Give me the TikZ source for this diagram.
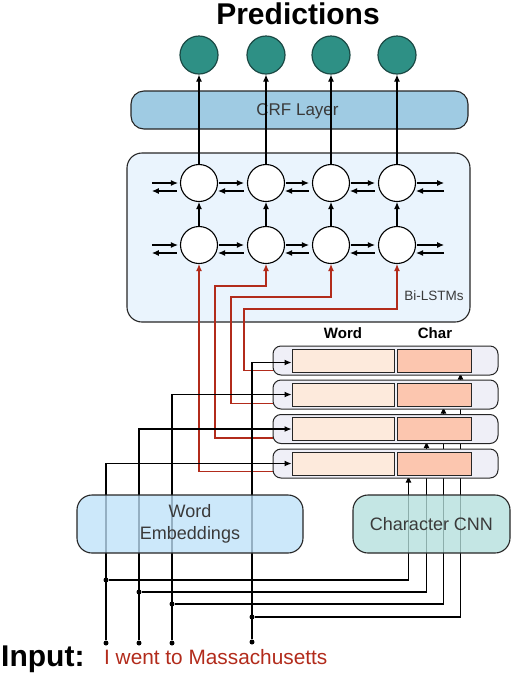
\documentclass[tikz,border=0pt]{standalone}
\usepackage{fontspec}
\setmainfont{Liberation Sans}
\usetikzlibrary{arrows.meta,calc}
\definecolor{tealc}{HTML}{2E9085}
\definecolor{tealdark}{HTML}{1B4A45}
\definecolor{crfc}{HTML}{9FCBE3}
\definecolor{lstmbg}{HTML}{EAF4FD}
\definecolor{wec}{HTML}{BEE1F9}
\definecolor{cnnc}{HTML}{B4DFDC}
\definecolor{rowc}{HTML}{EFEFF7}
\definecolor{wordc}{HTML}{FDEADC}
\definecolor{charc}{HTML}{FCC6AF}
\definecolor{redc}{HTML}{B22B1B}
\definecolor{txtc}{HTML}{3A3A3A}
\pgfdeclarelayer{bgzero}
\pgfdeclarelayer{bgone}
\pgfdeclarelayer{fgone}
\pgfsetlayers{bgzero,bgone,main,fgone}
\begin{document}
\begin{tikzpicture}[x=1pt,y=-1pt,
  arr/.style={line width=1.1pt, black, -{Latex[length=7pt,width=6pt]}},
  redarr/.style={line width=1.1pt, redc, -{Latex[length=7pt,width=6pt]}},
  lstm/.style={circle, draw, line width=1.1pt, fill=white, minimum size=37pt, inner sep=0pt},
  pred/.style={circle, draw=tealdark, line width=1.2pt, fill=tealc, minimum size=38pt, inner sep=0pt},
  panel/.style={draw=black!85, line width=1.1pt, inner sep=0pt},
  rowbox/.style={draw=black!85, line width=1pt, fill=rowc, rounded corners=8pt, minimum width=225pt, minimum height=29pt, inner sep=0pt},
  wordbox/.style={draw=black!85, line width=1pt, fill=wordc, minimum width=102pt, minimum height=23pt, inner sep=0pt},
  charbox/.style={draw=black!85, line width=1pt, fill=charc, minimum width=74pt, minimum height=23pt, inner sep=0pt},
  dot/.style={circle, fill=black, minimum size=5pt, inner sep=0pt},
  lbl/.style={text=txtc, inner sep=0pt}
]
\useasboundingbox (0,0) rectangle (517,673);

% ---------- rows (embedding stack) ----------
\foreach \i/\y in {1/360.5,2/394.5,3/429,4/463.5}{
  \node[rowbox] (r\i) at (385.5,\y) {};
  \node[wordbox] (w\i) at (343,\y) {};
  \node[charbox] (c\i) at (434,\y) {};
}
\node[font=\bfseries\fontsize{15}{18}\selectfont, inner sep=0pt] (wordlbl) at (343,333) {Word};
\node[font=\bfseries\fontsize{15}{18}\selectfont, inner sep=0pt] (charlbl) at (435,333) {Char};

% ---------- LSTM nodes and predictions ----------
\foreach \i/\x in {1/199,2/266,3/331,4/397}{
  \node[lstm] (t\i) at (\x,183) {};
  \node[lstm] (b\i) at (\x,245) {};
  \node[pred] (p\i) at (\x,55) {};
}

\begin{pgfonlayer}{bgzero}
  \node[panel, fill=lstmbg, rounded corners=15pt, minimum width=343pt, minimum height=169pt] (bilstm) at (298.5,237.5) {};
  \node[panel, fill=crfc, rounded corners=13pt, minimum width=337pt, minimum height=38pt] (crf) at (299.5,110) {};
\end{pgfonlayer}
\node[lbl, font=\fontsize{17}{20}\selectfont] (crflbl) at (297.5,111) {CRF Layer};
\node[lbl, font=\fontsize{13.5}{16}\selectfont] (bilbl) at (434,296) {Bi-LSTMs};

% LSTM horizontal arrows
\foreach \r in {t,b}{
  \draw[arr] ([xshift=-28pt]\r1.west) -- ([xshift=-2pt]\r1.west);
  \draw[arr] ([xshift=-3pt,yshift=-8pt]\r1.west) -- ([xshift=-28pt,yshift=-8pt]\r1.west);
  \foreach \a/\b in {1/2,2/3,3/4}{
    \draw[arr] ([xshift=1pt]\r\a.east) -- ([xshift=-3pt]\r\b.west);
    \draw[arr] ([xshift=-3pt,yshift=-8pt]\r\b.west) -- ([xshift=0pt,yshift=-8pt]\r\a.east);
  }
  \draw[arr] ([xshift=1pt]\r4.east) -- ([xshift=28pt]\r4.east);
  \draw[arr] ([xshift=28pt,yshift=-8pt]\r4.east) -- ([xshift=0pt,yshift=-8pt]\r4.east);
}
\foreach \i in {1,2,3,4}{
  \draw[arr] (b\i) -- (t\i);
  \draw[arr] (t\i) -- (p\i);
}

% ---------- input dots ----------
\begin{pgfonlayer}{fgone}
  \node[dot] (d1) at (106,643) {};
  \node[dot] (d2) at (139,643) {};
  \node[dot] (d3) at (172,643) {};
  \node[dot] (d4) at (252,642) {};
  \node[dot] (j1) at (106,580) {};
  \node[dot] (j2) at (139,592) {};
  \node[dot] (j3) at (172,604) {};
  \node[dot] (j4) at (252,617) {};
\end{pgfonlayer}

% ---------- red and CNN lines (under rows) ----------
\begin{pgfonlayer}{bgone}
  \draw[redarr] ([xshift=4pt,yshift=-8pt]r4.west) -| (b1.south);
  \draw[redarr] ([xshift=4pt,yshift=-9pt]r3.west) -| (215,286) -| (b2.south);
  \draw[redarr] ([xshift=4pt,yshift=-9pt]r2.west) -| (231,297) -| (b3.south);
  \draw[redarr] ([xshift=4pt,yshift=-10pt]r1.west) -| (244,309) -| (b4.south);
  \draw[arr] (j1) -| ([xshift=12pt]c4.south west);
  \draw[arr] (j2) -| ([xshift=30pt]c3.south west);
  \draw[arr] (j3) -| ([xshift=47pt]c2.south west);
  \draw[arr] (j4) -| ([xshift=64pt]c1.south west);
\end{pgfonlayer}

% ---------- input paths ----------
\draw[arr] (d1) |- (w4.west);
\draw[arr] (d2) |- (w3.west);
\draw[arr] (d3) |- (w2.west);
\draw[arr] (d4) |- ([yshift=-2pt]w1.west);

% ---------- embedding boxes ----------
\begin{pgfonlayer}{fgone}
  \node[panel, fill=wec, fill opacity=0.78, text opacity=1, rounded corners=15pt, minimum width=226pt, minimum height=58pt, align=center, text=txtc, font=\fontsize{18}{22}\selectfont] (we) at (190,524) {Word\\Embeddings};
  \node[panel, fill=cnnc, fill opacity=0.78, text opacity=1, rounded corners=15pt, minimum width=157pt, minimum height=58pt, text=txtc, font=\fontsize{18}{22}\selectfont] (cnn) at (431.5,524) {Character CNN};
\end{pgfonlayer}

% ---------- titles ----------
\node[font=\bfseries\fontsize{30}{36}\selectfont, inner sep=0pt] (title) at (298,14) {Predictions};
\node[font=\bfseries\fontsize{30}{36}\selectfont, inner sep=0pt, anchor=base west] (inp) at (1,666) {Input:};
\node[font=\fontsize{20.8}{24}\selectfont, text=redc, inner sep=0pt, anchor=base west] (sent) at (104,664) {I went to Massachusetts};
\end{tikzpicture}
\end{document}
